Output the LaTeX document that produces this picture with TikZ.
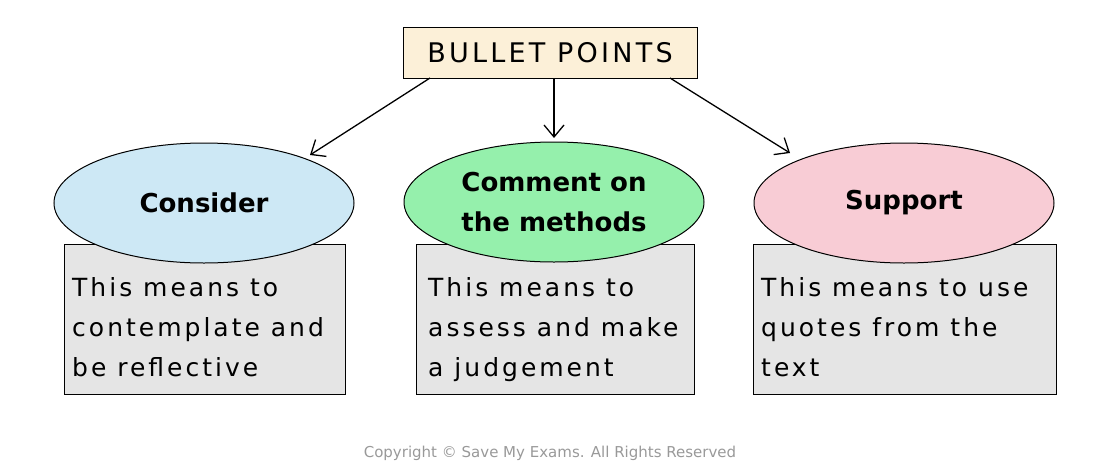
\documentclass[tikz,border=0pt]{standalone}
\usepackage{fontspec}
\setmainfont{DejaVu Sans}
\newfontfamily\spaced[LetterSpace=12]{DejaVu Sans}
\usetikzlibrary{arrows.meta,shapes.geometric}
\definecolor{cream}{HTML}{FCF0D8}
\definecolor{lblue}{HTML}{CDE8F5}
\definecolor{lgreen}{HTML}{95F0AC}
\definecolor{lpink}{HTML}{F8CCD5}
\definecolor{lgray}{HTML}{E5E5E5}
\begin{document}
\begin{tikzpicture}[x=1pt,y=-1pt,
  box/.style={draw=black,line width=1pt,fill=lgray,minimum height=150pt,anchor=north west,inner sep=0pt},
  ell/.style={draw=black,line width=1pt,ellipse,minimum width=300pt,minimum height=120pt,inner sep=0pt,font=\fontsize{26}{40}\selectfont\bfseries,align=center},
  txt/.style={anchor=north west,align=left,font=\spaced\fontsize{25}{40}\selectfont,inner sep=0pt},
  arr/.style={line width=1.3pt,-{Straight Barb[length=12pt,width=20pt]}}]
\useasboundingbox (0,0) rectangle (1100,466);
\node[box,minimum width=281pt] (b1) at (64,244) {};
\node[box,minimum width=278pt] (b2) at (416,244) {};
\node[box,minimum width=303pt] (b3) at (753,244) {};
\node[txt] (t1) at (72,277) {This means to\\contemplate and\\be reflective};
\node[txt] (t2) at (428,277) {This means to\\assess and make\\a judgement};
\node[txt] (t3) at (761,277) {This means to use\\quotes from the\\text};
\node[ell,fill=lblue] (e1) at (204,203) {Consider};
\node[ell,fill=lgreen] (e2) at (554,202) {Comment on\\the methods};
\node[ell,fill=lpink] (e3) at (904,203) {Support};
\node[draw=black,line width=1pt,fill=cream,minimum width=294pt,minimum height=51pt,font=\spaced\fontsize{27}{30}\selectfont] (top) at (550,52.5) {BULLET POINTS};
\coordinate (a1) at (430,78);
\coordinate (a3) at (670,78);
\draw[arr] (a1) -- (310,155);
\draw[arr] (top.south) ++(4,0) -- (554,138);
\draw[arr] (a3) -- (790,153);
\node[text=gray!80,font=\fontsize{15}{18}\selectfont] (c) at (550,453) {Copyright © Save My Exams. All Rights Reserved};
\end{tikzpicture}
\end{document}
